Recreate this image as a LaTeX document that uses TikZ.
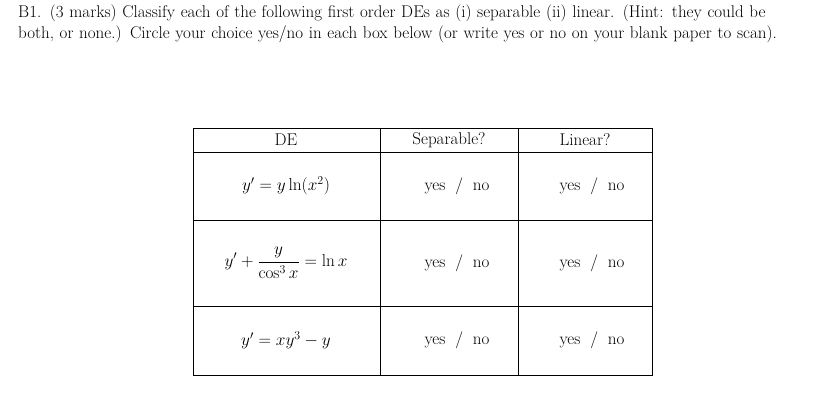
\documentclass[tikz,border=0pt]{standalone}
\begin{document}
\begin{tikzpicture}[x=1pt,y=-1pt,
  tx/.style={font=\fontsize{17}{21}\selectfont, inner sep=0pt},
  cell/.style={draw, line width=0.8pt}]
\useasboundingbox (0,0) rectangle (824,413);
\node[tx, anchor=north west, text width=780pt, align=left] (p) at (18,5)
 {\hangindent=36pt\hangafter=1 B1. (3 marks) Classify each of the following first order DEs as (i) separable (ii) linear. (Hint: they could be both, or none.) Circle your choice yes/no in each box below (or write yes or no on your blank paper to scan).};
\draw[cell] (193,128) rectangle (652,375);
\draw[cell] (193,152) -- (652,152) (193,220) -- (652,220) (193,306) -- (652,306);
\draw[cell] (380,128) -- (380,375) (518,128) -- (518,375);
\node[tx] (h1) at (286,140) {DE};
\node[tx] (h2) at (449,140) {Separable?};
\node[tx] (h3) at (585,140) {Linear?};
\node[tx] (d1) at (286,186) {$y'=y\ln(x^2)$};
\node[tx] (d2) at (286,263) {$\displaystyle y'+\frac{y}{\cos^3 x}=\ln x$};
\node[tx] (d3) at (286,340) {$y'=xy^3-y$};
\foreach \r/\y in {1/186,2/263,3/340}{
  \node[tx] (s\r) at (457,\y) {yes \;/\; no};
  \node[tx] (l\r) at (592,\y) {yes \;/\; no};
}
\end{tikzpicture}
\end{document}
